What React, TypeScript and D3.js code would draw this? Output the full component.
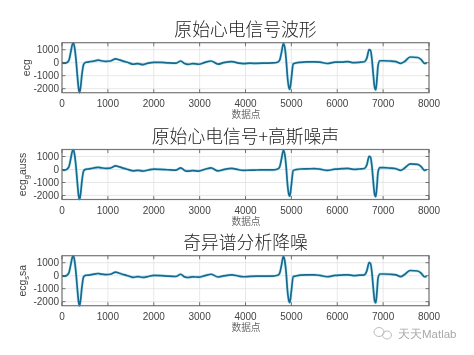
import React from "react";
import * as d3 from "d3";

const sampleX = [0,50,100,150,190,225,250,275,305,335,362,382,405,435,470,510,560,620,700,790,860,950,1050,1170,1250,1350,1450,1550,1650,1760,1880,2000,2150,2300,2480,2590,2670,2750,2850,2980,3120,3250,3400,3520,3700,3850,3950,4100,4250,4420,4600,4700,4745,4785,4825,4855,4885,4915,4945,4965,5000,5040,5100,5200,5350,5500,5620,5780,5950,6100,6230,6350,6480,6590,6645,6695,6725,6755,6785,6815,6840,6865,6890,6930,7020,7150,7280,7380,7470,7590,7750,7830,7900,7950];

const ecgValues = [-30,-40,0,180,800,1400,1520,1150,250,-1000,-2000,-2320,-1900,-900,-150,20,50,90,130,200,150,100,130,300,220,100,0,-120,-70,-150,-30,30,30,-10,-40,130,-60,-130,-70,-120,30,130,-110,0,90,-30,-70,-40,-50,-30,-20,40,200,800,1480,1200,300,-1100,-1900,-2050,-1200,-100,-20,30,60,70,50,-60,40,50,90,0,30,70,350,1000,950,300,-900,-1900,-2100,-1300,-200,150,150,130,80,-50,100,440,400,240,-50,-30];
const gaussValues = [-30,-50,10,200,820,1400,1520,1130,230,-1020,-2020,-2320,-1900,-880,-120,10,40,70,120,170,130,90,110,280,200,90,-10,-110,-60,-120,-40,30,10,-20,-50,120,-70,-130,-80,-120,20,120,-110,-10,80,-20,-70,-50,-40,-30,-30,40,210,820,1480,1190,280,-1120,-1920,-2060,-1180,-90,-10,40,50,70,30,-70,30,60,80,10,40,80,360,1010,940,280,-920,-1920,-2090,-1280,-180,140,140,110,60,-60,110,430,390,220,-60,-20];
const ssaValues = [-20,-40,20,210,830,1410,1530,1120,220,-1030,-2030,-2320,-1890,-860,-100,20,40,70,120,170,120,90,110,270,190,80,-20,-130,-70,-130,-60,20,10,-30,-60,110,-90,-140,-90,-110,10,110,-100,-20,70,-30,-80,-50,-40,-40,-30,30,200,810,1490,1170,270,-1140,-1930,-2070,-1170,-80,-20,50,60,70,20,-80,20,50,70,10,40,70,370,1010,930,270,-930,-1930,-2100,-1270,-170,130,130,110,70,-70,100,400,360,190,-80,-60];

const xTicks = [0,1000,2000,3000,4000,5000,6000,7000,8000];
const yTicks = [1000,0,-1000,-2000];
const titles = ["原始心电信号波形","原始心电信号+高斯噪声","奇异谱分析降噪"];
const xLabel = "数据点";
const watermark = "天天Matlab";
const panelSeries = [ecgValues, gaussValues, ssaValues];
const panelTops = [42.7, 149.5, 255.7];
const yLabels = [["ecg",""],["ecg","g","auss"],["ecg","s","sa"]];

const sans = "Arial, 'Liberation Sans', sans-serif";
const cjk = "'Noto Sans CJK SC', serif";

function Panel({ index }: { index: number }) {
  const top = panelTops[index];
  const h = 50;
  const left = 62, right = 429;
  const x = d3.scaleLinear().domain([0, 8000]).range([left, right]);
  const y = d3.scaleLinear().domain([-2310, 1540]).range([top + h, top]);
  const values = panelSeries[index];
  const line = d3.line<number>()
    .x((_, i) => x(sampleX[i]))
    .y((d) => y(d))
    .curve(d3.curveMonotoneX);
  const clipId = `clip${index}`;
  const yl = yLabels[index];
  const cy = top + h / 2;
  return (
    <g>
      <defs>
        <clipPath id={clipId}><rect x={left} y={top - 1} width={right - left} height={h + 2} /></clipPath>
      </defs>
      {xTicks.map((t) => <line key={t} x1={x(t)} x2={x(t)} y1={top} y2={top + h} stroke="#e2e2e2" strokeWidth={0.8} />)}
      {yTicks.map((t) => <line key={t} x1={left} x2={right} y1={y(t)} y2={y(t)} stroke="#e2e2e2" strokeWidth={0.8} />)}
      <path d={line(values) ?? ""} fill="none" stroke="#7fd4e6" strokeWidth={3} opacity={0.45} clipPath={`url(#${clipId})`} />
      <path d={line(values) ?? ""} fill="none" stroke="#17698f" strokeWidth={1.7} strokeLinejoin="round" clipPath={`url(#${clipId})`} />
      <rect x={left} y={top} width={right - left} height={h} fill="none" stroke="#777" strokeWidth={1.2} />
      {xTicks.map((t) => (
        <g key={t}>
          <line x1={x(t)} x2={x(t)} y1={top} y2={top + 3.5} stroke="#555" strokeWidth={0.8} />
          <line x1={x(t)} x2={x(t)} y1={top + h} y2={top + h - 3.5} stroke="#555" strokeWidth={0.8} />
          <text x={x(t)} y={top + h + 14} textAnchor="middle" fontFamily={sans} fontSize={10} fill="#444">{t}</text>
        </g>
      ))}
      {yTicks.map((t) => (
        <g key={t}>
          <line x1={left} x2={left + 3.5} y1={y(t)} y2={y(t)} stroke="#555" strokeWidth={0.8} />
          <line x1={right} x2={right - 3.5} y1={y(t)} y2={y(t)} stroke="#555" strokeWidth={0.8} />
          <text x={left - 3} y={y(t) + 3.6} textAnchor="end" fontFamily={sans} fontSize={10} fill="#444">{t}</text>
        </g>
      ))}
      <text transform={`translate(${index === 0 ? 30 : 26},${cy}) rotate(-90)`} textAnchor="middle" fontFamily={sans} fontSize={10.5} fill="#444">
        {yl[0]}
        {yl[1] && <tspan dy={3} fontSize={7.5}>{yl[1]}</tspan>}
        {yl[2] && <tspan dy={-3}>{yl[2]}</tspan>}
      </text>
      <text x={246} y={top + h + 25.5} textAnchor="middle" fontFamily={cjk} fontSize={9.7} fill="#666">{xLabel}</text>
      <text x={245.5} y={top - 7} textAnchor="middle" fontFamily={cjk} fontWeight={300} fontSize={17.8} fill="#222">{titles[index]}</text>
    </g>
  );
}

export default function App() {
  return (
    <svg width={474} height={355} style={{ position: "fixed", left: 0, top: 0, background: "#fff", filter: "blur(0.35px)" }}>
      {titles.map((_, i) => <Panel key={i} index={i} />)}
      <g transform="translate(379,332)" fill="none" stroke="#bdbdbd" strokeWidth={1}>
        <ellipse cx={0} cy={0} rx={5} ry={4.5} />
        <ellipse cx={8} cy={3} rx={4.5} ry={4} />
      </g>
      <text x={398} y={338} fontFamily={sans} fontSize={11.5} fill="#a8a8a8">{watermark}</text>
    </svg>
  );
}
